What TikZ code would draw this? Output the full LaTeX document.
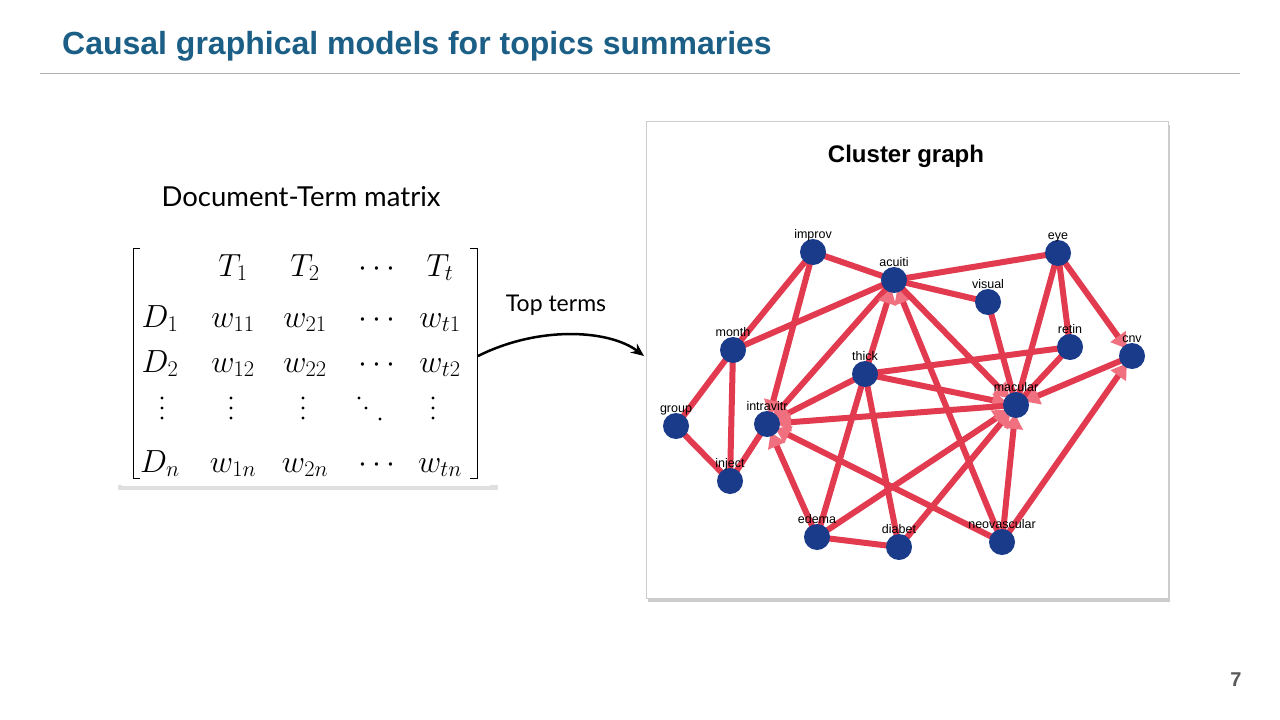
\RequirePackage{fix-cm}
\documentclass[tikz,border=0pt]{standalone}
\usepackage{fontspec}
\setmainfont{Liberation Sans}
\newfontfamily\lato{Lato}
\usetikzlibrary{arrows.meta,shadows}
\definecolor{ttl}{HTML}{1B5E86}
\definecolor{edg}{HTML}{E23A4F}
\definecolor{nd}{HTML}{1A3A8A}
\definecolor{tipc}{HTML}{F0707F}
\begin{document}
\begin{tikzpicture}[x=1pt,y=-1pt,
  v/.style={circle,fill=nd,minimum size=26pt,inner sep=0pt},
  lab/.style={font=\fontsize{12.5}{13}\selectfont,inner sep=0pt},
  e/.style={draw=edg,line width=6pt},
  a/.style={e,-{Triangle[length=15pt,width=18pt,color=tipc]},shorten >=9pt},
  cell/.style={font=\fontsize{32}{34}\selectfont,anchor=base},
  dot/.style={circle,fill=black,inner sep=0pt,minimum size=3.2pt}]
\useasboundingbox (0,0) rectangle (1280,720);
\fill[white] (0,0) rectangle (1280,720);
\node[anchor=base west,font=\bfseries\fontsize{32}{34}\selectfont,text=ttl,inner sep=0pt] (title) at (62,54) {Causal graphical models for topics summaries};
\draw[gray!60,line width=1pt] (40,73) -- (1240,73);
\node[font=\bfseries\fontsize{20}{22}\selectfont,text=gray!70!black] (pg) at (1236,680) {7};
% matrix
\node[font=\lato\fontsize{27.5}{29}\selectfont] (dtm) at (301,197) {Document-Term matrix};
\fill[gray!25] (118,485) rectangle (498,490);
\fill[white] (122,240) rectangle (490,486);
\draw[line width=1pt] (140,248) -- (133,248) -- (133,478) -- (140,478);
\draw[line width=1pt] (470,248) -- (477,248) -- (477,478) -- (470,478);
\foreach \x/\t in {233/T_1,305/T_2,377/\cdots,440/T_t}{\node[cell] at (\x,276) {$\t$};}
\foreach \r/\y/\d/\a/\b/\c in {1/327/D_1/w_{11}/w_{21}/w_{t1},2/372/D_2/w_{12}/w_{22}/w_{t2},3/472/D_n/w_{1n}/w_{2n}/w_{tn}}{
  \node[cell] at (160,\y) {$\d$};\node[cell] at (233,\y) {$\a$};\node[cell] at (305,\y) {$\b$};
  \node[cell] at (377,\y) {$\cdots$};\node[cell] at (440,\y) {$\c$};}
\foreach \x in {162,231,303,433}{\foreach \y in {398,408,418}{\node[dot] at (\x,\y) {};}}
\foreach \x/\y in {359,398,366/408,373/418}{}
\node[dot] at (359,398) {};\node[dot] at (366,408) {};\node[dot] at (380,419) {};
\coordinate (m) at (478,356);
\node[font=\lato\fontsize{23}{25}\selectfont] (tt) at (556,305) {Top terms};
% graph box
\node[draw=gray!40,fill=white,drop shadow={shadow xshift=2pt,shadow yshift=-4pt,opacity=0.4},minimum width=522pt,minimum height=477pt,anchor=north west,inner sep=0pt] (box) at (646,121) {};
\coordinate (g) at (644,356);
\draw[line width=2.5pt,-{Stealth[length=13pt,width=11pt]}] (m) .. controls (540,325) and (610,330) .. (g);
\node[font=\bfseries\fontsize{24}{26}\selectfont] (cg) at (906,156) {Cluster graph};
% nodes
\foreach \n/\x/\y in {improv/813/252,acuiti/894/280,eye/1058/253,visual/988/302,month/733/350,retin/1070/347,cnv/1132/356,thick/865/374,macular/1016/405,group/676/426,intravitr/767/424,inject/730/481,edema/817/537,diabet/899/547,neovascular/1002/542}
  {\coordinate (\n) at (\x,\y);}
\draw[e] (improv)--(acuiti); \draw[e] (improv)--(month); \draw[a] (improv)--(intravitr);
\draw[e] (acuiti)--(eye); \draw[e] (acuiti)--(visual); \draw[e] (acuiti)--(month);
\draw[a] (acuiti)--(intravitr); \draw[a] (thick)--(acuiti); \draw[a] (neovascular)--(acuiti);
\draw[a] (acuiti)--(macular); \draw[e] (visual)--(macular); \draw[e] (eye)--(macular);
\draw[e] (eye)--(retin); \draw[a] (eye)--(cnv); \draw[e] (retin)--(thick);
\draw[e] (retin)--(macular); \draw[a] (cnv)--(macular); \draw[a] (thick)--(macular);
\draw[a] (thick)--(intravitr); \draw[e] (thick)--(edema); \draw[e] (thick)--(diabet);
\draw[a] (macular)--(intravitr); \draw[e] (month)--(group); \draw[e] (month)--(inject);
\draw[e] (group)--(inject); \draw[e] (inject)--(intravitr); \draw[a] (edema)--(intravitr);
\draw[a] (neovascular)--(intravitr); \draw[a] (edema)--(macular); \draw[a] (diabet)--(macular);
\draw[a] (neovascular)--(macular); \draw[a] (neovascular)--(cnv); \draw[e] (edema)--(diabet);
\foreach \n in {improv,acuiti,eye,visual,month,retin,cnv,thick,macular,group,intravitr,inject,edema,diabet,neovascular}
  {\node[v] (\n-v) at (\n) {}; \node[lab,anchor=base] (\n-l) at ([yshift=14pt]\n) {\n};}
\end{tikzpicture}
\end{document}
